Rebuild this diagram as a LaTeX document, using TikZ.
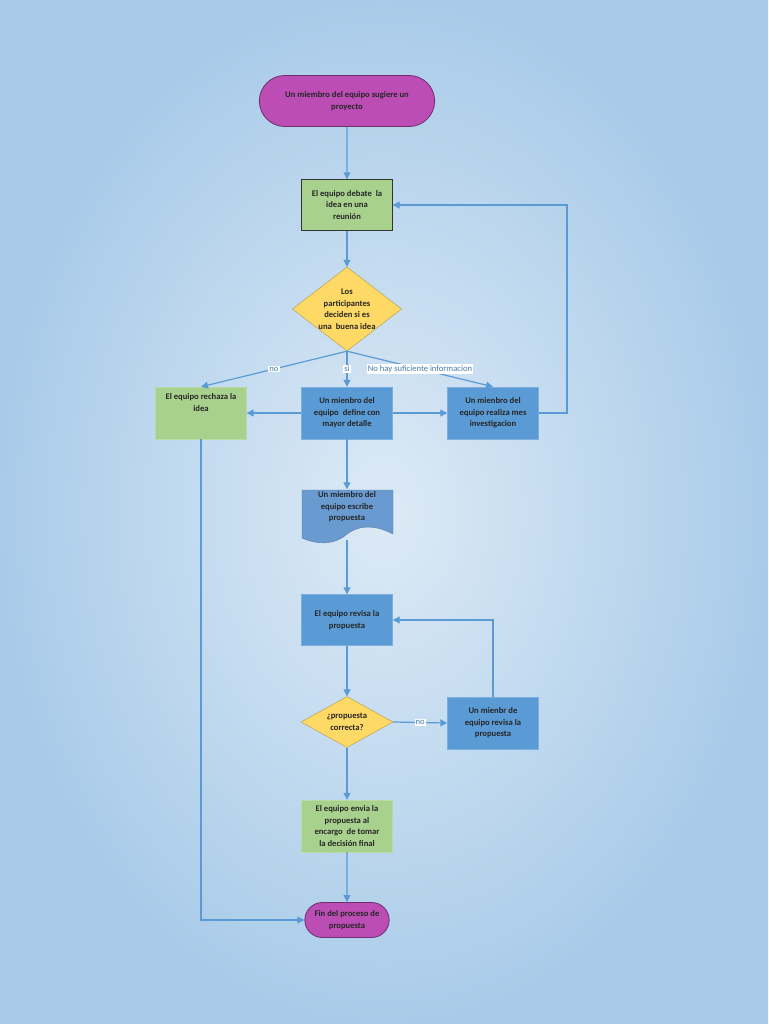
\documentclass[tikz,border=0pt]{standalone}
\usepackage{fontspec}
\setmainfont{Carlito}
\usetikzlibrary{shapes.geometric,shapes.misc,arrows.meta}
\definecolor{bgin}{HTML}{DDEAF6}
\definecolor{bgout}{HTML}{A9CBE9}
\definecolor{lnc}{HTML}{5B9BD5}
\definecolor{bluebox}{HTML}{5B9BD5}
\definecolor{bluedoc}{HTML}{6A9BD0}
\definecolor{greenbox}{HTML}{A9D18E}
\definecolor{yel}{HTML}{FFD966}
\definecolor{mag}{HTML}{BB4DB5}
\begin{document}
\begin{tikzpicture}[x=1pt,y=-1pt,
 txt/.style={font=\fontsize{8.6}{11.5}\selectfont\bfseries, align=center, text=black!85},
 box/.style={txt, rectangle, minimum width=91pt, minimum height=51pt, inner sep=2pt},
 bluebx/.style={box, fill=bluebox, draw=bluebox!80!white},
 greenbx/.style={box, fill=greenbox, draw=greenbox!80!white},
 greenbk/.style={box, fill=greenbox, draw=black!80},
 pill/.style={txt, rounded rectangle, fill=mag, draw=mag!60!black, thick},
 dia/.style={txt, diamond, fill=yel, draw=yel!70!black, aspect=1.3, inner sep=0pt},
 arr/.style={draw=lnc, line width=1.2pt, -{Triangle[length=7pt,width=7pt]}},
 lab/.style={font=\fontsize{8.6}{9}\selectfont, text=lnc!80!black, fill=white, inner sep=1pt}]
\fill[inner color=bgin, outer color=bgout] (0,0) rectangle (768,1024);
\useasboundingbox (0,0) rectangle (768,1024);
\node[pill, minimum width=182pt, minimum height=51pt] (start) at (347,101) {Un miembro del equipo sugiere un\\proyecto};
\node[greenbk] (debate) at (347,205) {El equipo debate \ la\\idea en una\\reunión};
\node[dia, minimum width=92pt, minimum height=70pt, aspect=1.3] (d1) at (347,309) {Los\\participantes\\deciden si es\\una \ buena idea};
\node[greenbx, minimum height=52pt] (rech) at (201,413) {El equipo rechaza la\\idea\\[10pt]};
\node[bluebx, minimum height=52pt] (def) at (347,413) {Un mienbro del\\equipo \ define con\\mayor detalle};
\node[bluebx, minimum height=52pt] (inv) at (493,413) {Un mienbro del\\equipo realiza mes\\investigacion};
\fill[bluedoc] (302,490) -- (393,490) -- (393,534) .. controls (370,522) and (355,528) .. (347,534) .. controls (335,545) and (318,545) .. (302,538) -- cycle;
\draw[bluedoc!80!black, line width=0.4pt] (302,490) -- (393,490) -- (393,534) .. controls (370,522) and (355,528) .. (347,534) .. controls (335,545) and (318,545) .. (302,538) -- cycle;
\node[box, minimum height=51pt] (doc) at (347,515) {Un miembro del\\equipo escribe\\propuesta\\[6pt]};
\node[bluebx] (rev) at (347,620) {El equipo revisa la\\propuesta};
\node[dia, minimum width=92pt, minimum height=51pt] (d2) at (347,722) {¿propuesta\\correcta?};
\node[bluebx, minimum height=52pt] (mien) at (493,723) {Un mienbr de\\equipo revisa la\\propuesta};
\node[greenbx, minimum height=52pt] (env) at (347,826) {El equipo envia la\\propuesta al\\encargo \ de tomar\\la decisión final};
\node[pill, minimum width=91pt, minimum height=35pt] (fin) at (347,920) {Fin del proceso de\\propuesta};
\path[arr] (start) -- (debate);
\path[arr] (debate) -- (d1);
\path[arr] (d1.south) -- node[lab, pos=0.5]{no} (rech.north);
\path[arr] (d1.south) -- node[lab, pos=0.5]{si} (def.north);
\path[arr] (d1.south) -- node[lab, pos=0.5]{No hay suficiente informacion} (inv.north);
\path[arr] (def) -- (rech);
\path[arr] (def) -- (inv);
\path[arr] (inv.east) -- (567,413) -- (567,205) -- (debate.east);
\path[arr] (def) -- (doc.north);
\path[arr] (347,540) -- (rev.north);
\path[arr] (rev) -- (d2);
\path[arr] (d2.east) -- node[lab]{no} (mien.west);
\path[arr] (mien.north) -- (493,620) -- (rev.east);
\path[arr] (d2) -- (env);
\path[arr] (env) -- (fin);
\path[arr] (rech.south) -- (201,920) -- (fin.west);
\end{tikzpicture}
\end{document}
